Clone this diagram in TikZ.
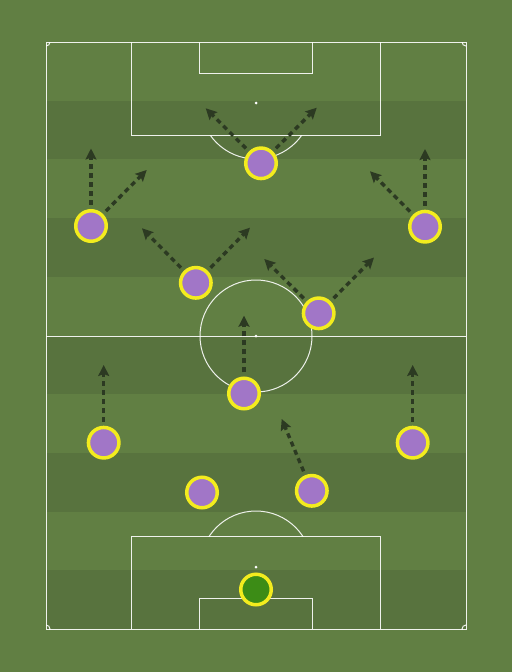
\documentclass[tikz,border=0pt]{standalone}
\usetikzlibrary{arrows.meta,shadows}
\definecolor{grasslight}{HTML}{617F43}
\definecolor{grassdark}{HTML}{58733E}
\definecolor{runcol}{HTML}{2C3A22}
\definecolor{ringcol}{HTML}{F3EC1E}
\definecolor{purplefill}{HTML}{A176C7}
\definecolor{gkfill}{HTML}{3C8C16}
\tikzset{
  pline/.style={draw=white, line width=1pt, draw opacity=0.9},
  player/.style={circle, minimum size=30.5pt, inner sep=0pt, draw=ringcol, line width=3.5pt, fill=purplefill,
    drop shadow={shadow xshift=0.5pt, shadow yshift=-1.2pt, opacity=0.25}},
  keeper/.style={player, fill=gkfill},
  run/.style={draw=runcol, line width=3.4pt, dash pattern=on 5pt off 4pt,
    -{Stealth[length=11pt,width=11pt,inset=2pt]}, shorten <=4pt}
}
\begin{document}
\begin{tikzpicture}[x=1pt,y=-1pt]
\useasboundingbox (0,0) rectangle (512,672);
\fill[grasslight] (0,0) rectangle (512,672);
% stripes
\foreach \i in {1,3,5,7,9}{
  \fill[grassdark] (46,{42+\i*58.7}) rectangle (466,{42+(\i+1)*58.7});
}
% pitch outline and halfway line
\draw[pline] (46,42) rectangle (466,629);
\draw[pline] (46,336) -- (466,336);
\draw[pline] (256,336) circle[radius=56pt];
\fill[white] (256,336) circle[radius=1.5pt];
% top penalty area
\draw[pline] (131,42) -- (131,135) -- (380,135) -- (380,42);
\draw[pline] (199,42) -- (199,73) -- (312,73) -- (312,42);
\fill[white] (256,103) circle[radius=1.5pt];
\begin{scope}
  \clip (46,135) rectangle (466,336);
  \draw[pline] (256,103) circle[radius=56pt];
\end{scope}
% bottom penalty area
\draw[pline] (131,629) -- (131,536) -- (380,536) -- (380,629);
\draw[pline] (199,629) -- (199,598) -- (312,598) -- (312,629);
\fill[white] (256,567) circle[radius=1.5pt];
\begin{scope}
  \clip (46,336) rectangle (466,536);
  \draw[pline] (256,567) circle[radius=56pt];
\end{scope}
% corner arcs
\begin{scope}
  \clip (46,42) rectangle (466,629);
  \draw[pline] (46,42) circle[radius=4pt];
  \draw[pline] (466,42) circle[radius=4pt];
  \draw[pline] (46,629) circle[radius=4pt];
  \draw[pline] (466,629) circle[radius=4pt];
\end{scope}
% run targets
\coordinate (t1a) at (205.7,108.3);
\coordinate (t1b) at (316.7,107.7);
\coordinate (t2a) at (91,148.5);
\coordinate (t2b) at (146.7,170);
\coordinate (t3a) at (425,149);
\coordinate (t3b) at (370,171.3);
\coordinate (t4a) at (142,228.3);
\coordinate (t4b) at (250,227.7);
\coordinate (t5a) at (264.3,259);
\coordinate (t5b) at (374,257.5);
\coordinate (t6) at (244,315.7);
\coordinate (t7) at (103.7,365);
\coordinate (t8) at (412.7,365);
\coordinate (t9) at (281.7,419);
% player positions (invisible anchors for runs)
\path (261,163.3) node[inner sep=0pt, minimum size=34pt, circle] (q1) {}
      (91,226) node[inner sep=0pt, minimum size=34pt, circle] (q2) {}
      (425,226.7) node[inner sep=0pt, minimum size=34pt, circle] (q3) {}
      (195.8,282.8) node[inner sep=0pt, minimum size=34pt, circle] (q4) {}
      (318.7,313.3) node[inner sep=0pt, minimum size=34pt, circle] (q5) {}
      (244,393.5) node[inner sep=0pt, minimum size=34pt, circle] (q6) {}
      (103.7,442.7) node[inner sep=0pt, minimum size=34pt, circle] (q7) {}
      (412.7,442.7) node[inner sep=0pt, minimum size=34pt, circle] (q8) {}
      (311.8,490.8) node[inner sep=0pt, minimum size=34pt, circle] (q9) {};
\draw[run] (q1) -- (t1a);
\draw[run] (q1) -- (t1b);
\draw[run] (q2) -- (t2a);
\draw[run] (q2) -- (t2b);
\draw[run] (q3) -- (t3a);
\draw[run] (q3) -- (t3b);
\draw[run] (q4) -- (t4a);
\draw[run] (q4) -- (t4b);
\draw[run] (q5) -- (t5a);
\draw[run] (q5) -- (t5b);
\draw[run] (q6) -- (t6);
\draw[run] (q7) -- (t7);
\draw[run] (q8) -- (t8);
\draw[run] (q9) -- (t9);
% players
\node[player] (p1) at (q1) {};
\node[player] (p2) at (q2) {};
\node[player] (p3) at (q3) {};
\node[player] (p4) at (q4) {};
\node[player] (p5) at (q5) {};
\node[player] (p6) at (q6) {};
\node[player] (p7) at (q7) {};
\node[player] (p8) at (q8) {};
\node[player] (p9) at (q9) {};
\node[player] (p10) at (202,492.5) {};
\node[keeper] (gk) at (256,589.5) {};
\end{tikzpicture}
\end{document}
